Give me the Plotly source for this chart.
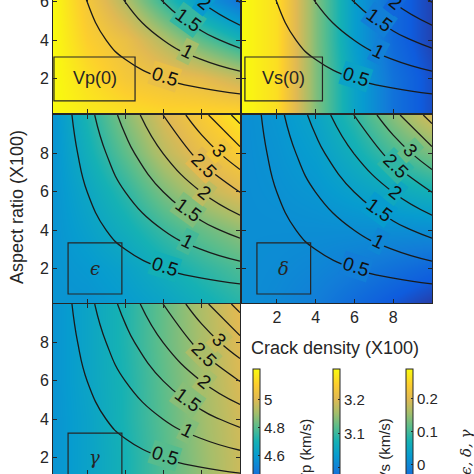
import plotly.graph_objects as go

# ---------------- data ----------------
nodes = [0.2, 2, 4, 6, 8, 10]          # crack density / aspect ratio grid (X100)

vp0 = [  # rows: aspect ratio nodes, cols: crack density nodes
    [5.22, 5.18, 5.15, 5.13, 5.13, 5.13],
    [5.22, 5.15, 5.08, 5.05, 5.02, 4.96],
    [5.22, 5.11, 5.04, 4.93, 4.81, 4.71],
    [5.22, 5.08, 4.93, 4.76, 4.60, 4.48],
    [5.22, 5.05, 4.85, 4.67, 4.52, 4.41],
    [5.22, 5.04, 4.81, 4.60, 4.46, 4.35],
]
vs0 = [
    [3.29, 3.26, 3.14, 3.05, 2.98, 2.94],
    [3.29, 3.26, 3.14, 3.05, 2.98, 2.94],
    [3.29, 3.26, 3.14, 3.04, 2.97, 2.93],
    [3.29, 3.26, 3.14, 3.04, 2.97, 2.93],
    [3.29, 3.26, 3.13, 3.04, 2.97, 2.93],
    [3.29, 3.26, 3.13, 3.04, 2.97, 2.93],
]
eps = [
    [0.017, 0.017, 0.029, 0.044, 0.064, 0.083],
    [0.017, 0.025, 0.040, 0.064, 0.087, 0.107],
    [0.017, 0.037, 0.064, 0.095, 0.122, 0.146],
    [0.017, 0.048, 0.087, 0.134, 0.173, 0.200],
    [0.017, 0.064, 0.118, 0.173, 0.212, 0.239],
    [0.017, 0.076, 0.142, 0.196, 0.235, 0.271],
]
delta = [
    [0.009, 0.001, -0.014, -0.038, -0.061, -0.084],
    [0.009, 0.005, -0.002, -0.014, -0.030, -0.045],
    [0.009, 0.009, 0.009, 0.009, 0.009, 0.009],
    [0.009, 0.013, 0.021, 0.037, 0.052, 0.068],
    [0.009, 0.017, 0.033, 0.064, 0.103, 0.134],
    [0.009, 0.021, 0.044, 0.087, 0.142, 0.193],
]
gamma = [
    [0.017, 0.040, 0.072, 0.111, 0.150, 0.185],
    [0.017, 0.040, 0.072, 0.111, 0.150, 0.185],
    [0.017, 0.040, 0.076, 0.115, 0.154, 0.189],
    [0.017, 0.044, 0.076, 0.118, 0.157, 0.196],
    [0.017, 0.044, 0.079, 0.122, 0.161, 0.200],
    [0.017, 0.044, 0.079, 0.122, 0.165, 0.204],
]

# crack porosity (%) read on a grid, for the black contour lines
por_nodes = [0.2, 1, 2, 4, 6, 8, 10]
porosity = [
    [0.002, 0.008, 0.017, 0.034, 0.050, 0.067, 0.084],
    [0.008, 0.042, 0.084, 0.168, 0.251, 0.335, 0.419],
    [0.017, 0.084, 0.168, 0.335, 0.503, 0.670, 0.838],
    [0.034, 0.168, 0.335, 0.670, 1.005, 1.340, 1.676],
    [0.050, 0.251, 0.503, 1.005, 1.508, 2.011, 2.513],
    [0.067, 0.335, 0.670, 1.340, 2.011, 2.681, 3.351],
    [0.084, 0.419, 0.838, 1.676, 2.513, 3.351, 4.189],
]
contour_levels = (0.5, 4.0, 0.5)
label_texts = ["0.5", "1", "1.5", "2", "2.5", "3"]

panel_names = ["Vp(0)", "Vs(0)", "<i>ϵ</i>", "<i>δ</i>", "<i>γ</i>"]
axis_ticks = [2, 4, 6, 8]
vp_ticks = [4.6, 4.8, 5]
vs_ticks = [3, 3.1, 3.2]
an_ticks = [0, 0.1, 0.2]

# ---------------- styling / placement ----------------
parula = [[0.0, (53, 42, 135)], [0.11, (15, 92, 221)], [0.22, (18, 125, 216)],
          [0.33, (7, 156, 207)], [0.44, (21, 177, 180)], [0.55, (89, 189, 140)],
          [0.66, (165, 190, 107)], [0.77, (225, 185, 82)], [0.88, (252, 206, 46)],
          [1.0, (249, 251, 14)]]
parula_cs = [[s, "rgb(%d,%d,%d)" % c] for s, c in parula]

# where the contour labels sit (data coords) and their rotation
label_pos = [(6.06, 2.12), (7.25, 3.40), (7.25, 5.05), (8.12, 5.95), (8.12, 7.38), (8.9, 8.15)]
label_ang = [18, 27, 36, 38, 45, 48]

W = H = 474
def px(v): return v / W
def py(v): return 1 - v / H

fields = [vp0, vs0, eps, delta, gamma]
caxes = ["coloraxis", "coloraxis2", "coloraxis3", "coloraxis3", "coloraxis3"]
crange = {"coloraxis": (4.3, 5.22), "coloraxis2": (2.91, 3.29), "coloraxis3": (-0.1, 0.29)}

def local_color(z, x, y, cmin, cmax):
    def seg(v):
        for k in range(len(nodes) - 1):
            if nodes[k] <= v <= nodes[k + 1]:
                return k, (v - nodes[k]) / (nodes[k + 1] - nodes[k])
        return (0, 0.0) if v < nodes[0] else (len(nodes) - 2, 1.0)
    i, ty = seg(y)
    j, tx = seg(x)
    v = (z[i][j] * (1 - tx) * (1 - ty) + z[i][j + 1] * tx * (1 - ty)
         + z[i + 1][j] * (1 - tx) * ty + z[i + 1][j + 1] * tx * ty)
    f = min(1, max(0, (v - cmin) / (cmax - cmin)))
    for k in range(len(parula) - 1):
        s0, c0 = parula[k]
        s1, c1 = parula[k + 1]
        if s0 <= f <= s1:
            t = (f - s0) / (s1 - s0)
            return "rgb(%d,%d,%d)" % tuple(round(a + (b - a) * t) for a, b in zip(c0, c1))
    return "rgb(249,251,14)"

fig = go.Figure()
for i, (z, ca) in enumerate(zip(fields, caxes)):
    xa = "x" if i == 0 else f"x{i+1}"
    ya = "y" if i == 0 else f"y{i+1}"
    fig.add_trace(go.Heatmap(x=nodes, y=nodes, z=z, coloraxis=ca, zsmooth="best",
                             xaxis=xa, yaxis=ya, hoverinfo="skip"))
    fig.add_trace(go.Contour(
        x=por_nodes, y=por_nodes, z=porosity, xaxis=xa, yaxis=ya,
        showscale=False, hoverinfo="skip",
        contours=dict(coloring="none", start=contour_levels[0], end=contour_levels[1],
                      size=contour_levels[2], showlabels=False),
        line=dict(color="#1a1a1a", width=1.3, smoothing=1.3)))

colx = [(53, 240), (242, 432)]
rows = [(0, 113), (115, 303), (304, 474)]
yranges = [[0.2, 6.09], [0.2, 10], [1.15, 10]]
layout_pos = [(0, 0), (1, 0), (0, 1), (1, 1), (0, 2)]

axcommon = dict(showgrid=False, zeroline=False, ticks="inside", ticklen=4,
                tickcolor="#262626", showline=True, linecolor="#262626", linewidth=1,
                mirror="ticks", tickvals=axis_ticks, automargin=False,
                ticklabeloverflow="allow",
                tickfont=dict(size=16, color="#262626", family="Liberation Sans"))

lay = {}
for i, (c, r) in enumerate(layout_pos):
    xk = "xaxis" if i == 0 else f"xaxis{i+1}"
    yk = "yaxis" if i == 0 else f"yaxis{i+1}"
    xa = "x" if i == 0 else f"x{i+1}"
    ya = "y" if i == 0 else f"y{i+1}"
    lay[xk] = dict(axcommon, domain=[px(colx[c][0]), px(colx[c][1])], range=[0.2, 10],
                   anchor=ya, showticklabels=(i == 3))
    lay[yk] = dict(axcommon, domain=[py(rows[r][1]), py(rows[r][0])], range=yranges[r],
                   anchor=xa, showticklabels=(c == 0))

def cbar(xleft, ticks):
    return dict(x=px(xleft), xanchor="left", xpad=0, y=py(369), yanchor="top", ypad=0,
                lenmode="pixels", len=129, thickness=7, outlinecolor="#262626",
                outlinewidth=1, tickvals=ticks, ticks="inside", ticklen=2,
                tickcolor="#262626",
                tickfont=dict(size=15, color="#262626", family="Liberation Sans"))

fig.update_layout(
    width=W, height=H, margin=dict(l=0, r=0, t=0, b=0, autoexpand=False),
    paper_bgcolor="white", plot_bgcolor="rgba(0,0,0,0)", showlegend=False,
    coloraxis=dict(colorscale=parula_cs, cmin=crange["coloraxis"][0], cmax=crange["coloraxis"][1],
                   colorbar=cbar(253, vp_ticks)),
    coloraxis2=dict(colorscale=parula_cs, cmin=crange["coloraxis2"][0], cmax=crange["coloraxis2"][1],
                    colorbar=cbar(333, vs_ticks)),
    coloraxis3=dict(colorscale=parula_cs, cmin=crange["coloraxis3"][0], cmax=crange["coloraxis3"][1],
                    colorbar=cbar(406, an_ticks)),
    **lay)

# contour labels (with a gap in the line, like the original)
for i, (z, ca) in enumerate(zip(fields, caxes)):
    xa = "x" if i == 0 else f"x{i+1}"
    ya = "y" if i == 0 else f"y{i+1}"
    yr = yranges[layout_pos[i][1]]
    for t, (lx, ly), ang in zip(label_texts, label_pos, label_ang):
        if not (yr[0] <= ly <= yr[1]):
            continue
        fig.add_annotation(xref=xa, yref=ya, x=lx, y=ly, text=t, textangle=ang,
                           showarrow=False, borderpad=1,
                           bgcolor=local_color(z, lx, ly, *crange[ca]),
                           font=dict(size=19, color="#111111", family="Liberation Sans"))

# label boxes
boxes = [(0.25, 4.5, 0.83, 3.12), (0.35, 4.35, 0.83, 3.12), (0.99, 3.81, 0.67, 3.33),
         (0.97, 3.74, 0.67, 3.33), (0.99, 3.81, 0.67, 3.28)]
for i, (x0, x1, y0, y1) in enumerate(boxes):
    xa = "x" if i == 0 else f"x{i+1}"
    ya = "y" if i == 0 else f"y{i+1}"
    fig.add_shape(type="rect", xref=xa, yref=ya, x0=x0, x1=x1, y0=y0, y1=y1,
                  line=dict(color="#262626", width=1.2))
    greek = i >= 2
    fig.add_annotation(xref=xa, yref=ya, x=(x0 + x1) / 2, y=2.0, text=panel_names[i],
                       showarrow=False, xanchor="center", yanchor="middle",
                       font=dict(size=18,
                                 family="DejaVu Serif" if greek else "Liberation Sans",
                                 color="#262626"))

fig.add_annotation(xref="paper", yref="paper", x=px(335), y=py(348), text="Crack density (X100)",
                   xanchor="center", yanchor="middle",
                   showarrow=False, font=dict(size=18, family="Liberation Sans", color="#262626"))
fig.add_annotation(xref="paper", yref="paper", x=px(17), y=py(207), text="Aspect ratio (X100)",
                   textangle=-90, showarrow=False, xanchor="center", yanchor="middle",
                   font=dict(size=18, family="Liberation Sans", color="#262626"))
for xc, t, top, fam in ((305, "Vp (km/s)", 417, "Liberation Sans"),
                        (384, "Vs (km/s)", 417, "Liberation Sans"),
                        (466, "<i>ϵ, δ, γ</i>", 427, "DejaVu Serif")):
    fig.add_annotation(xref="paper", yref="paper", x=px(xc), y=py(top), yanchor="top",
                       xanchor="center",
                       text=t, textangle=-90, showarrow=False,
                       font=dict(size=15, family=fam, color="#262626"))

fig.write_html("out.html")
